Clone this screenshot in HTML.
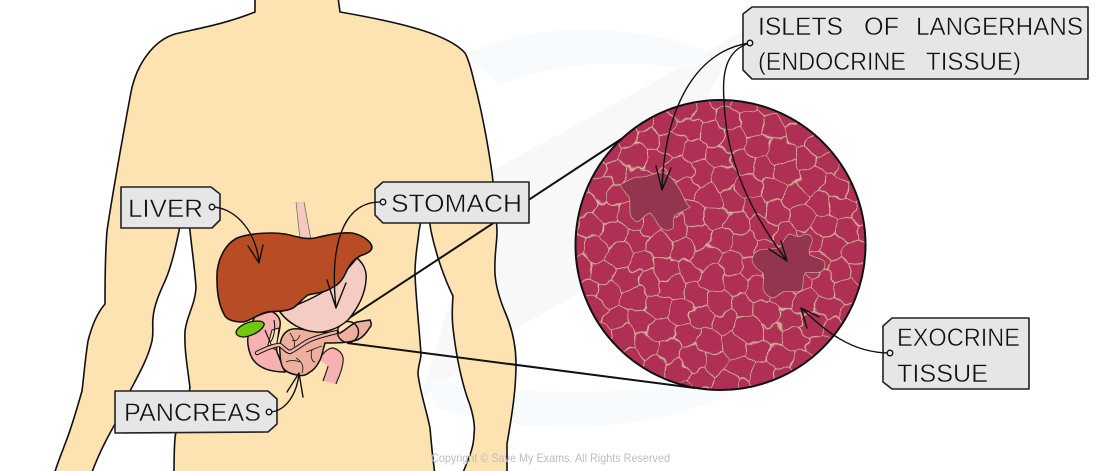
<!DOCTYPE html>
<html><head><meta charset="utf-8"><style>
html,body{margin:0;padding:0;background:#fff}
svg{display:block}
text{font-family:"Liberation Sans",sans-serif;fill:#111}
.t text{stroke:#e6e6e6;stroke-width:.45px;font-size:25px}
</style></head><body>
<svg xmlns="http://www.w3.org/2000/svg" width="1100" height="471" viewBox="0 0 1100 471">
<defs>
<clipPath id="cc"><circle cx="720.5" cy="245" r="144"/></clipPath>
<pattern id="hex" width="24" height="40" patternUnits="userSpaceOnUse" patternTransform="rotate(14) translate(3 5)">
<path d="M0,6.500 L12,0 L24,6.500 M0,6.500 V20 M24,6.500 V20 L12,26.500 L0,20 M12,26.500 V40" fill="none" stroke="#d2b79d" stroke-width="1"/>
</pattern>
<filter id="wob" x="520" y="50" width="400" height="400" filterUnits="userSpaceOnUse" color-interpolation-filters="sRGB">
<feTurbulence type="fractalNoise" baseFrequency=".055" numOctaves="2" seed="7" result="n"/>
<feDisplacementMap in="SourceGraphic" in2="n" scale="15" xChannelSelector="R" yChannelSelector="G"/>
</filter>
</defs>

<!-- faint watermark -->
<path d="M490,172 L640,90 L745,30 L700,110 L640,240 L577,294 L517,328 L420,400 Z" fill="#f8f8f8"/>
<path d="M465,55 C530,22 630,22 705,50 L700,72 C630,58 560,60 500,85 Z" fill="#f8fbfe"/>
<path d="M430,378 C500,395 600,395 700,385 L760,370 C720,410 640,428 560,427 C510,426 465,420 432,405 Z" fill="#f8fbfe"/>

<!-- body -->
<path d="M255,-3 L255,12 C225,24 200,28 175,34 C155,40 137,62 131,92 C124,130 113,190 107,231 C105,255 105,285 105,304 C98,312 92,325 88,341 C85,360 84,375 82,391 C76,412 70,432 65,444 C61,455 57,464 54,475 L91,475 C98,455 107,438 115,424 C122,410 126,400 130,391 C140,372 148,358 152,341 C154,330 152,325 153,318 C154,305 160,292 165,281 C172,265 176,245 179,231 L183,208 L187,208 L190,231 C192,250 195,270 196,288 C195,305 187,315 185,331 C184,350 188,370 190,388 C186,405 177,420 175,438 C174,450 174,462 174,475 L435,475 C433,460 431,440 430,428 C426,408 420,392 418,374 C418,365 421,360 421,354 C419,325 416,300 415,274 C415,255 418,243 419,231 L424,205 L427,205 L431,231 C436,255 445,280 453,296 C452,310 452,320 453,328 C456,355 462,385 470,405 C474,418 475,428 474,434 C474,448 468,460 462,475 L507,475 C507,462 507,452 507,444 C510,425 516,395 516,364 C516,345 512,328 505,312 C500,300 496,288 495,274 C494,255 497,245 497,231 C496,205 494,190 492,173 C488,145 483,118 477,93 C473,78 470,62 465,53 C450,36 410,24 340,12 L338,-3 Z" fill="#fde2b2" stroke="#111" stroke-width="1.6" stroke-linejoin="round"/>

<!-- connector lines to zoom circle -->
<path d="M349,318 L635,130" fill="none" stroke="#111" stroke-width="2"/>
<path d="M347,343 L695,388" fill="none" stroke="#111" stroke-width="2"/>

<!-- esophagus -->
<path d="M296,202 L304,202 L311,240 L300,240 Z" fill="#f5c9c0"/>
<path d="M300,240 L296,202 M304,202 L311,240" stroke="#666" stroke-width=".7" fill="none"/>

<!-- small intestine / duodenum -->
<path d="M320,360 C324,352 328,348 333,348 C341,350 344,356 343,362 C342,372 338,378 336,384 L323,381 C326,372 328,368 328,366 Z" fill="#f8b1b1"/>
<path d="M320,358 C324,352 328,348 333,348 C341,350 344,356 343,362 C342,372 338,378 336,384 M323,381 C326,372 328,368 328,366" fill="none" stroke="#222" stroke-width="1.2"/>
<path d="M255,317 C262,314 270,311 273,312 C279,316 281,320 280,326 C279,336 275,342 277,352 L285,372 C270,372 258,368 252,358 C247,348 247,338 249,330 C251,324 253,320 255,317 Z" fill="#f8b1b1" stroke="#111" stroke-width="1.5"/>
<path d="M272,330 L268,345 L276,350 L279,328 Z" fill="#fde2b2" stroke="#111" stroke-width="1"/>
<path d="M265,330 C268,338 272,345 272,348 M274,320 C276,330 273,340 270,342" fill="none" stroke="#111" stroke-width="1.1"/>

<!-- pancreas -->
<path d="M280,353 C279,345 281,336 286,332 C292,327 300,329 307,330 C320,332 332,334 340,333 C346,330 351,324 357,322 L370,320 C372,324 371,327 370,327 C366,334 362,338 357,340 C348,343 336,343 325,343 C323,350 322,356 320,360 C317,366 314,370 310,372 C305,376 302,376 297,375 C291,374 286,372 283,368 C281,364 280,358 280,353 Z" fill="#eeb09c" stroke="#111" stroke-width="1.5"/>
<path d="M257,353 C265,349 274,345 280,345 C284,348 287,352 290,352 C297,349 303,343 310,340 C320,336 328,334 337,332" fill="none" stroke="#111" stroke-width="4.4" stroke-linecap="round"/>
<path d="M257,353 C265,349 274,345 280,345 C284,348 287,352 290,352 C297,349 303,343 310,340 C320,336 328,334 337,332" fill="none" stroke="#f3b2ab" stroke-width="2.4" stroke-linecap="round"/>
<path d="M290,333 C293,338 296,342 294,347 M300,335 C298,340 295,342 292,340 M296,358 C303,362 304,368 302,373 M306,352 C312,350 318,347 322,346 M312,350 C310,356 312,362 315,362 M286,362 C290,360 295,360 300,362" fill="none" stroke="#222" stroke-width=".9"/>
<circle cx="348" cy="332" r="10.5" fill="none" stroke="#111" stroke-width="1.4"/>

<!-- stomach -->
<path d="M280,312 C292,306 330,295 345,272 L357,258 C364,264 367,272 366,280 C365,295 358,308 348,320 C338,329 325,333 316,332 C302,331 288,323 280,312 Z" fill="#f5ccc3" stroke="#111" stroke-width="1.5"/>

<!-- liver -->
<path d="M217,280 C216,262 224,245 237,238 C250,233 272,232 285,234 C295,236 305,240 315,238 C328,235 340,232 352,233 C362,235 371,241 372,247 C372,252 365,254 360,256 C353,260 349,266 347,270 C343,280 338,285 333,287 C325,293 315,293 308,295 C303,298 298,305 293,308 C285,312 275,311 267,312 C258,314 250,321 243,322 C235,322 228,320 225,316 C219,306 217,292 217,280 Z" fill="#b84c24" stroke="#111" stroke-width="1.6"/>

<!-- gall bladder -->
<path d="M236,332 C238,326 248,321 258,321 C262,321 265,323 264,325 C262,331 252,336 244,337 C239,337 236,335 236,332 Z" fill="#6fc80a" stroke="#111" stroke-width="1.3"/>

<!-- zoom circle -->
<circle cx="720.5" cy="245" r="145" fill="#b03055"/>
<g clip-path="url(#cc)"><rect x="540" y="70" width="360" height="350" fill="url(#hex)" filter="url(#wob)"/></g>
<path d="M620,185 C628,180 632,178 637,177 C648,178 655,172 663,172 C672,176 676,184 680,190 C684,198 686,204 690,207 C685,211 680,212 675,215 C672,220 674,225 673,228 C668,232 664,230 660,227 C656,222 654,216 650,213 C645,214 642,220 637,222 C633,220 630,216 630,213 C630,206 630,200 629,197 C625,192 622,189 620,185 Z" fill="#93354f" stroke="#c9ad96" stroke-width=".7"/>
<path d="M752,260 C753,254 756,251 760,250 C768,248 775,250 780,247 C784,240 787,234 790,234 C796,236 800,238 803,235 C810,233 813,237 812,242 C810,247 808,252 810,255 C816,258 824,259 825,263 C825,269 822,272 820,272 C815,274 808,271 805,273 C802,278 804,285 802,290 C796,294 788,290 783,292 C779,294 776,298 772,298 C767,296 763,292 763,287 C763,281 765,277 763,273 C758,270 753,266 752,260 Z" fill="#93354f" stroke="#c9ad96" stroke-width=".7"/>
<circle cx="720.5" cy="245" r="145" fill="none" stroke="#111" stroke-width="2"/>

<!-- labels -->
<g fill="#e6e6e6" stroke="#222" stroke-width="1.6" stroke-linejoin="round">
<path d="M121,187 L211,187 L220,194 L220,220 L212,228 L121,228 Z"/>
<path d="M115,391 L268,391 L277,399 L277,424 L268,432 L115,433 Z"/>
<path d="M383,182 L529,182 L529,223 L383,223 L375,215 L375,189 Z"/>
<path d="M752,7 L1088,7 L1088,79 L752,79 L743,70 L743,14 Z"/>
<path d="M892,318 L1029,318 L1029,389 L892,389 L883,382 L883,326 Z"/>
</g>
<g class="t">
<text x="128" y="217" textLength="75" lengthAdjust="spacingAndGlyphs">LIVER</text>
<text x="124" y="421" textLength="137" lengthAdjust="spacingAndGlyphs">PANCREAS</text>
<text x="391" y="212" textLength="131" lengthAdjust="spacingAndGlyphs">STOMACH</text>
<text x="758" y="35" textLength="85" lengthAdjust="spacingAndGlyphs">ISLETS</text>
<text x="864" y="35" textLength="35" lengthAdjust="spacingAndGlyphs">OF</text>
<text x="916" y="35" textLength="167" lengthAdjust="spacingAndGlyphs">LANGERHANS</text>
<text x="758" y="70" textLength="148" lengthAdjust="spacingAndGlyphs">(ENDOCRINE</text>
<text x="926" y="70" textLength="95" lengthAdjust="spacingAndGlyphs">TISSUE)</text>
<text x="897" y="346" textLength="123" lengthAdjust="spacingAndGlyphs">EXOCRINE</text>
<text x="897" y="382" textLength="91" lengthAdjust="spacingAndGlyphs">TISSUE</text>
</g>

<!-- arrows -->
<g fill="none" stroke="#111" stroke-width="1.4" stroke-linecap="round" stroke-linejoin="round">
<path d="M212,207 C238,208 257,235 259,263 M248,246 L259,263 L263,245"/>
<path d="M383,202 C350,200 328,232 336,308 M327,280 L336,308 L346,283"/>
<path d="M269,412 C285,412 297,395 299,373 M287,392 L299,373 L303,397"/>
<path d="M750,43 C700,50 665,100 662,190 M656,166 L662,190 L671,168"/>
<path d="M750,43 C725,50 722,75 724,100 C726,170 760,225 787,261 M769,249 L787,261 L781,241"/>
<path d="M890,353 C850,353 825,330 801,308 M819,317 L801,308 L807,328"/>
</g>
<g fill="#e6e6e6" stroke="#111" stroke-width="1.3">
<circle cx="212" cy="207" r="2.8"/><circle cx="269" cy="412" r="2.8"/><circle cx="383" cy="202" r="2.8"/><circle cx="750" cy="43" r="2.8"/><circle cx="890" cy="353" r="2.8"/>
</g>

<text x="431" y="462" font-size="12" textLength="239" lengthAdjust="spacingAndGlyphs" style="fill:#bdbdbd">Copyright © Save My Exams. All Rights Reserved</text>
</svg>
</body></html>
